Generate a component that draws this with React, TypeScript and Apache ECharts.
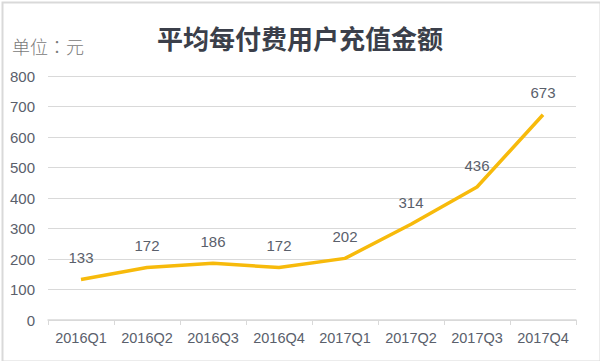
import React, { useEffect, useRef } from "react";
import * as echarts from "echarts";

const categories = ["2016Q1", "2016Q2", "2016Q3", "2016Q4", "2017Q1", "2017Q2", "2017Q3", "2017Q4"];
const values = [133, 172, 186, 172, 202, 314, 436, 673];
const titleText = "平均每付费用户充值金额";
const unitText = "单位：元";

export default function App() {
  const ref = useRef<HTMLDivElement>(null);
  useEffect(() => {
    if (!ref.current) return;
    const chart = echarts.init(ref.current, undefined, { renderer: "svg" });
    const font = "'Noto Sans CJK SC', 'Noto Sans', sans-serif";
    const numFont = "'Liberation Sans', 'Noto Sans CJK SC', sans-serif";
    chart.setOption({
      animation: false,
      backgroundColor: "#ffffff",
      textStyle: { fontFamily: font },
      title: {
        text: titleText,
        left: "center",
        top: 19,
        textStyle: { fontSize: 26, fontWeight: "bold", color: "#3b3f4a", fontFamily: font },
      },
      graphic: [
        {
          type: "rect",
          left: 0,
          top: 0,
          shape: { x: 1, y: 1, width: 598, height: 359 },
          style: { fill: "none", stroke: "#d9d9d9", lineWidth: 2 },
        },
        {
          type: "text",
          left: 12,
          top: 37,
          style: { text: unitText, fontSize: 18, fill: "#7a7a7a", fontFamily: "'Noto Sans CJK TC', sans-serif", fontWeight: 300 },
        },
      ],
      grid: { left: 48, right: 24, top: 76, bottom: 41 },
      xAxis: {
        type: "category",
        data: categories,
        boundaryGap: true,
        axisLine: { lineStyle: { color: "#d9d9d9", width: 1.5 } },
        axisTick: { show: true, interval: 0, lineStyle: { color: "#d9d9d9" }, length: 5 },
        axisLabel: { color: "#5a606b", fontSize: 14.5, margin: 11, interval: 0, fontFamily: numFont },
      },
      yAxis: {
        type: "value",
        min: 0,
        max: 800,
        interval: 100,
        axisLine: { show: false },
        axisTick: { show: false },
        splitLine: { lineStyle: { color: "#d9d9d9", width: 1 } },
        axisLabel: { color: "#5a606b", fontSize: 15, margin: 13, fontFamily: numFont },
      },
      series: [
        {
          type: "line",
          data: values,
          smooth: false,
          symbol: "circle",
          symbolSize: 1,
          showSymbol: true,
          itemStyle: { color: "rgba(0,0,0,0)" },
          lineStyle: { color: "#F7BA0B", width: 3.5 },
          label: {
            show: true,
            position: "top",
            distance: 14,
            color: "#5a606b",
            fontSize: 15,
            fontFamily: numFont,
          },
        },
      ],
    });
    return () => chart.dispose();
  }, []);
  return <div ref={ref} style={{ width: 600, height: 361, position: "absolute", left: 0, top: 0 }} />;
}
